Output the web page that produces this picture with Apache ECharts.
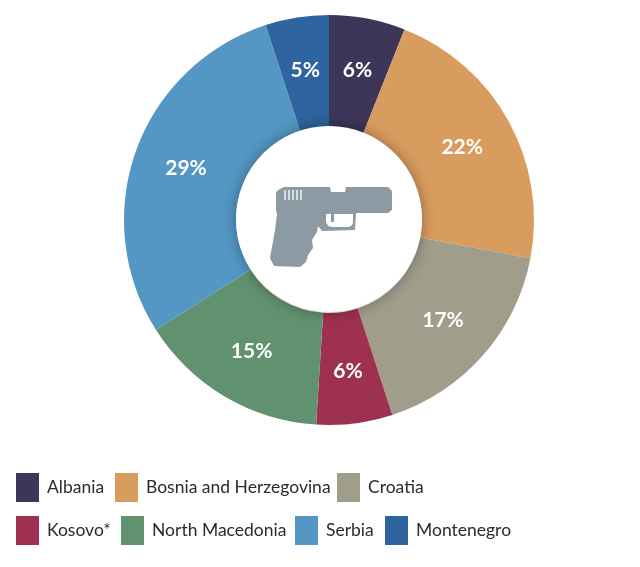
<!DOCTYPE html>
<html><head><meta charset="utf-8">
<script src="https://cdn.jsdelivr.net/npm/echarts@6/dist/echarts.min.js"></script>
<style>html,body{margin:0;padding:0;background:#fff}#c{width:640px;height:567px}</style>
</head><body><div id="c"></div>
<script>
const categories=['Albania','Bosnia and Herzegovina','Croatia','Kosovo*','North Macedonia','Serbia','Montenegro'];
const values=[6,22,17,6,15,29,5];
const colors=['#3d3659','#d99c5f','#a09d8a','#9e3150','#61926f','#5497c4','#2e649f'];
const legendPos=[[16,473],[115,473],[337,473],[16,516],[121,516],[295,516],[385,516]];
const chart=echarts.init(document.getElementById('c'));
const legends=categories.map((n,i)=>({data:[n],left:legendPos[i][0],top:legendPos[i][1],padding:0,itemWidth:23,itemHeight:29,itemGap:0,icon:'rect',selectedMode:false,
 textStyle:{fontFamily:'Lato',fontSize:17.5,color:'#2b2b2b',padding:[0,0,0,3]}}));
const gun=[[278,190],[284,187],[330,187],[331,192],[345,192],[346,187],[388,187],[392,191],[392,210],[388,213],[356,213],[355,230],[322,231],[318,226],[317,232],[312,240],[313,248],[308,255],[306,262],[300,267],[274,266],[270,258],[275,230],[277,214],[276,210],[276,193]];
const serr=[285,289,293,297,301].map(x=>({type:'line',z:12,shape:{x1:x,y1:190,x2:x,y2:200},style:{stroke:'#fff',lineWidth:1.3}}));
chart.setOption({
 animation:false,
 color:colors,
 legend:legends,
 series:[{type:'pie',center:[329,220],radius:[93,205],startAngle:90,clockwise:true,
  data:categories.map((n,i)=>({name:n,value:values[i]})),
  label:{position:'inside',formatter:'{c}%',color:'#fff',fontFamily:'Lato',fontWeight:'bold',fontSize:21},
  labelLine:{show:false},itemStyle:{borderWidth:0}}],
 graphic:[
  {type:'circle',shape:{cx:329,cy:219,r:93},style:{fill:'#fff',shadowBlur:14,shadowColor:'rgba(0,0,0,0.35)'},z:10},
  {type:'polygon',z:11,shape:{points:gun},style:{fill:'#8c9aa3'}},
  {type:'line',z:12,shape:{x1:333,y1:189,x2:343,y2:189},style:{stroke:'#fff',lineWidth:1.3}},
  {type:'rect',z:12,shape:{x:326,y:214,width:27,height:13,r:[0,0,5,6]},style:{fill:'#fff'}},
  {type:'rect',z:13,shape:{x:331,y:214,width:3,height:8},style:{fill:'#8c9aa3'}},
  ...serr
 ]
});
</script></body></html>
